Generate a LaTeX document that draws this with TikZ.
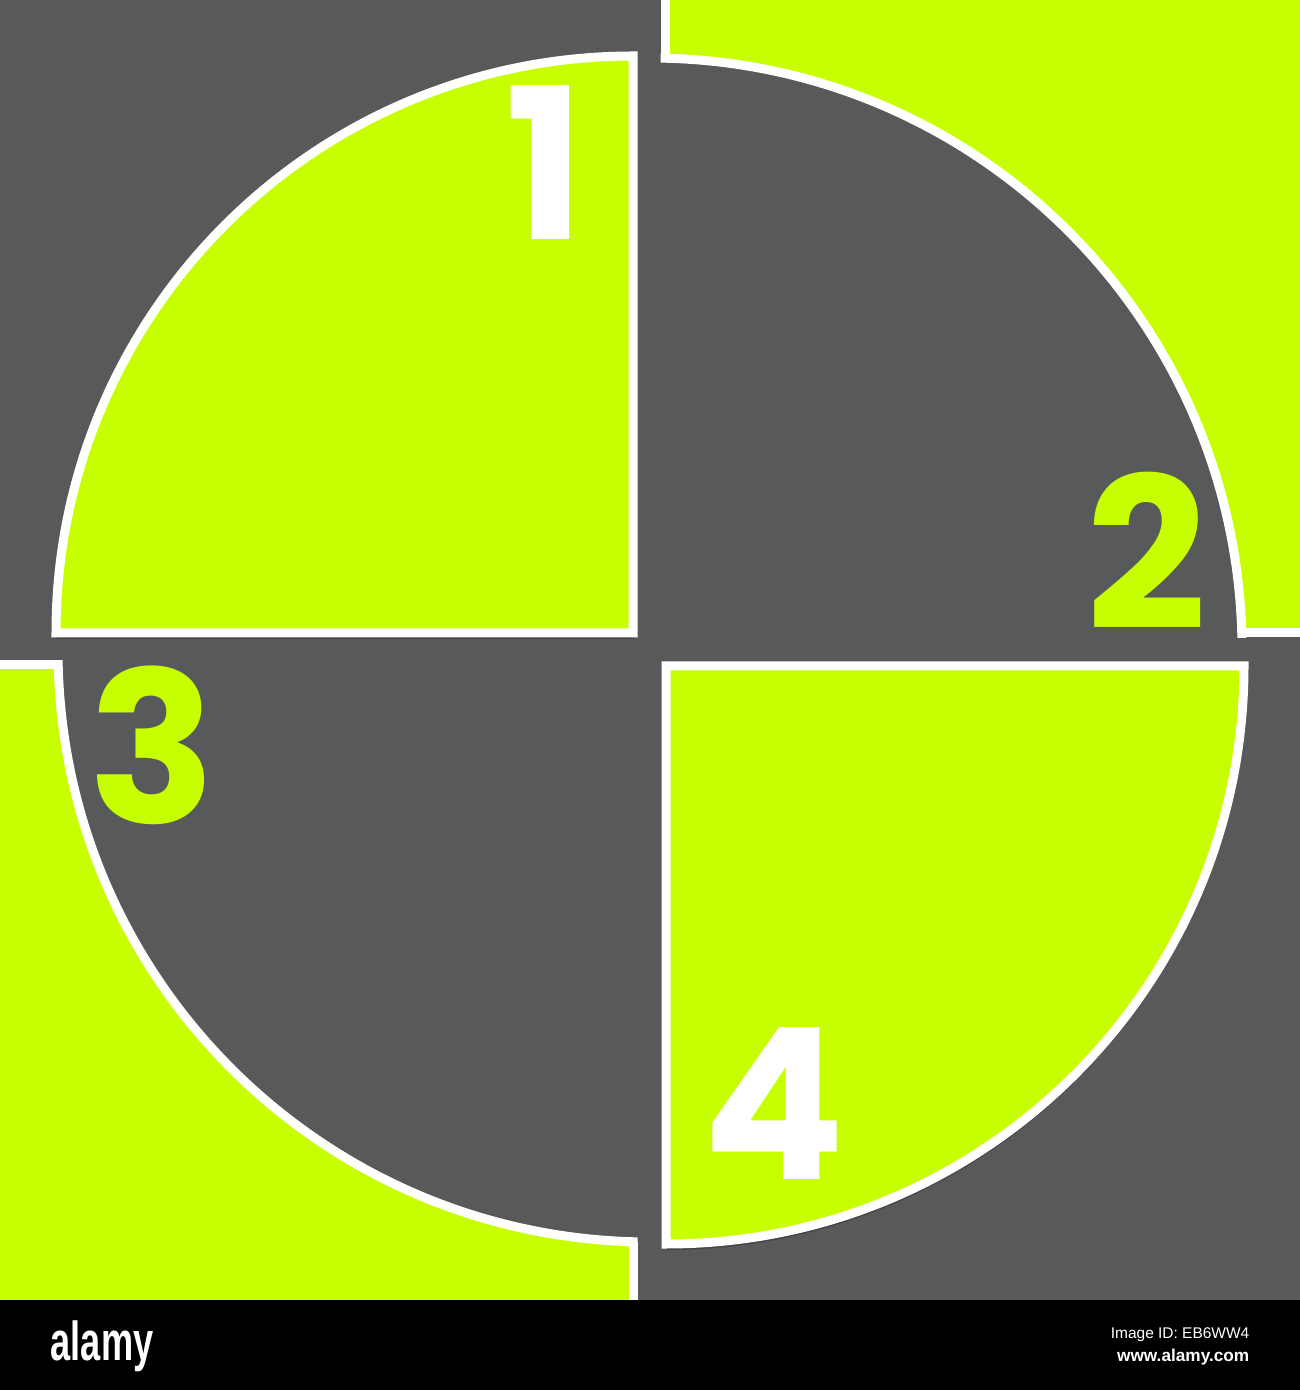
\documentclass[tikz,border=0pt]{standalone}
\usepackage{fontspec}
\usepackage{graphicx}
\usepackage{pdfrender}
\setmainfont{Liberation Sans}
\newfontfamily\numfont{Poppins}
\usetikzlibrary{shadows}
\definecolor{slategray}{RGB}{88, 89, 91}
\definecolor{limegreen}{RGB}{200, 255, 0}

\newcommand{\softnum}[1]{\textpdfrender{TextRenderingMode=FillStroke,
  LineWidth=5pt, LineJoinStyle=Round}{#1}}

\begin{document}
\begin{tikzpicture}[
    x=0.01cm, y=0.01cm,
    tile/.style={fill=limegreen, draw=white, line width=0.09cm},
    quarter/.style={fill=limegreen, draw=white, line width=0.09cm, line join=miter,
                    drop shadow={shadow xshift=0.01cm, shadow yshift=-0.06cm,
                                 fill=black, opacity=0.22}},
    rim/.style={draw=white, line width=0.09cm},
    digit/.style={font=\numfont\bfseries\fontsize{60}{60}\selectfont, inner sep=0pt},
  ]
    \useasboundingbox (0,-90) rectangle (1300,1300);

    % Background
    \fill[slategray] (0,0) rectangle (1300,1300);
    \begin{scope}
      \clip (0,0) rectangle (1300,1300);
      \draw[tile] (665,667) rectangle (1320,1320);
      \draw[tile] (-20,-20) rectangle (633,635);

      % Gray quarters, rim only where they cut into a tile
      \fill[slategray] (650,650) -- ++(-2:592) arc[start angle=-2, end angle=92, radius=592] -- cycle;
      \fill[slategray] (650,650) -- ++(178:592) arc[start angle=178, end angle=272, radius=592] -- cycle;
      \begin{scope}
        \clip (660.5,662.5) rectangle (1300,1300);
        \draw[rim] (650,650) ++(0:592) arc[start angle=0, end angle=90, radius=592];
      \end{scope}
      \begin{scope}
        \clip (0,0) rectangle (637.5,639.5);
        \draw[rim] (650,650) ++(180:592) arc[start angle=180, end angle=270, radius=592];
      \end{scope}

      % Green quarters
      \draw[quarter] (633,667) -- ++(0,577) arc[start angle=90, end angle=180, radius=577] -- cycle;
      \draw[quarter] (666,634) -- ++(0,-578) arc[start angle=270, end angle=360, radius=578] -- cycle;
    \end{scope}

    % Numbers
    \node[digit, white] (one) at (545,1138) {\softnum{1}};
    \node[digit, limegreen] (two) at (1147,749) {\softnum{2}};
    \node[digit, limegreen] (three) at (152,555) {\softnum{3}};
    \node[digit, white] (four) at (774,196) {\softnum{4}};

    % Footer
    \fill[black] (0,-90) rectangle (1300,0);
    \node[anchor=base west, inner sep=0pt, white, font=\bfseries\fontsize{15.6}{16}\selectfont]
      (brand) at (50,-60) {\scalebox{0.66}[1]{alamy}};
    \node[anchor=base east, inner sep=0pt, white, font=\fontsize{4.4}{5}\selectfont]
      (imgid) at (1250,-38) {Image ID: EB6WW4};
    \node[anchor=base east, inner sep=0pt, white, font=\bfseries\fontsize{4.9}{5}\selectfont]
      (site) at (1250,-61) {www.alamy.com};
  \end{tikzpicture}
\end{document}
